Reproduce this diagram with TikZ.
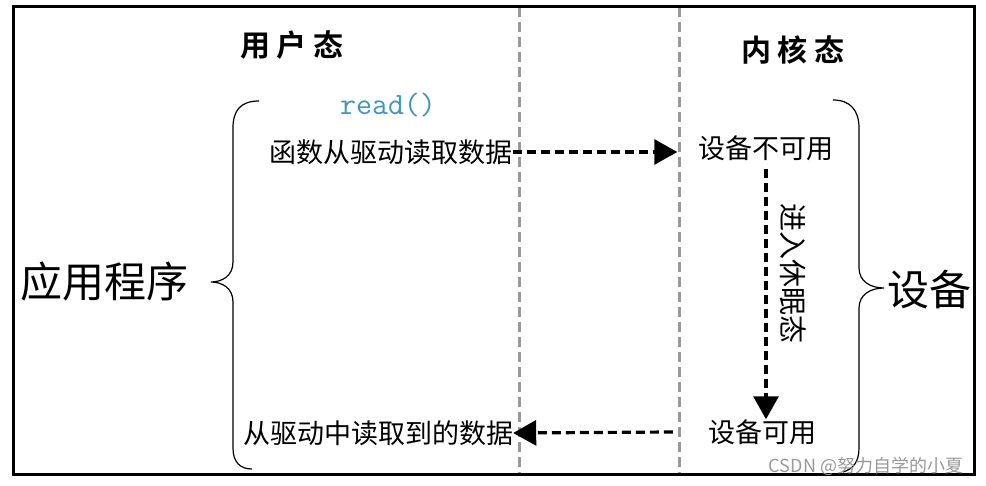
\documentclass[tikz,border=0pt]{standalone}
\usepackage{fontspec}
\usepackage{xcolor}
\usepackage{tikz}
\usetikzlibrary{positioning,calc,arrows.meta}
\newfontfamily\cjk{Noto Sans CJK SC}
\newfontfamily\cjkb{Noto Sans CJK SC Bold}
\definecolor{readblue}{RGB}{62,150,190}

\begin{document}
\begin{tikzpicture}[x=1pt,y=-1pt]
            \tikzset{
                txt/.style={
                    inner sep=0pt,
                    font=\cjk\fontsize{27}{30}\selectfont
                }
            }
            \tikzset{
                bigtxt/.style={
                    inner sep=0pt,
                    font=\cjk\fontsize{42}{46}\selectfont
                }
            }
            \tikzset{
                mode/.style={
                    inner sep=0pt,
                    font=\cjkb\fontsize{30}{32}\selectfont
                }
            }
            \tikzset{
                flow/.style={
                    -{Triangle[length=23pt,width=25pt]},
                    line width=3.2pt,
                    dash pattern=on 9pt off 5pt
                }
            }
            \tikzset{
                divider/.style={
                    black!40,
                    line width=3pt,
                    dash pattern=on 10pt off 5pt
                }
            }
            \tikzset{
                brace/.style={
                    line width=1.2pt
                }
            }

            \useasboundingbox (0,0) rectangle (986,486);

            \draw[divider] (519,7) -- (519,474);
            \draw[divider] (679,7) -- (679,474);
            \draw[line width=3pt] (13,7) rectangle (974,474);

            \node[mode] (U) at (292,45) {用\hspace{7pt}户\hspace{7pt}态};
            \node[mode] (K) at (793,50) {内\hspace{7pt}核\hspace{7pt}态};

            \node[inner sep=0pt,font=\ttfamily\fontsize{31}{34}\selectfont,text=readblue] (R) at (388,105) {read()};
            \node[txt] (F) at (391,152) {函数从驱动读取数据};
            \node[txt] (D) at (378,433) {从驱动中读取到的数据};
            \node[txt] (N) at (766,148) {设备不可用};
            \node[txt] (Y) at (762,432) {设备可用};

            \node[bigtxt] (App) at (104,282) {应用程序};
            \node[bigtxt] (Dev) at (929,290) {设备};

            \draw[flow] (F.east) -- ($(F.east -| N.west)+(-21,0)$);
            \draw[flow] ($(N.south)+(0,8)$) -- node[pos=0.42,right=13pt,txt,font=\cjk\fontsize{28}{30}\selectfont,rotate=-90,anchor=south] (S) {进入休眠态} (N.south |- Y.north);
            \draw[flow] ($(Y.west)+(-35,0)$) -- (D.east);

            % braces
            \draw[brace] (259,101) .. controls (241,101) and (233,110) .. (233,128)
                -- (233,262) .. controls (233,276) and (222,282) .. (211,282)
                .. controls (222,282) and (233,288) .. (233,302)
                -- (233,448) .. controls (233,462) and (240,469) .. (252,469);
            \draw[brace] (833,100) .. controls (850,100) and (859,110) .. (859,128)
                -- (859,268) .. controls (859,281) and (870,288) .. (884,288)
                .. controls (870,288) and (859,295) .. (859,308)
                -- (859,448) .. controls (859,462) and (853,469) .. (843,472);

            \node[inner sep=0pt,font=\cjk\fontsize{18}{20}\selectfont,text=black!40] (W) at (866,466) {CSDN @努力自学的小夏};
        \end{tikzpicture}
\end{document}
